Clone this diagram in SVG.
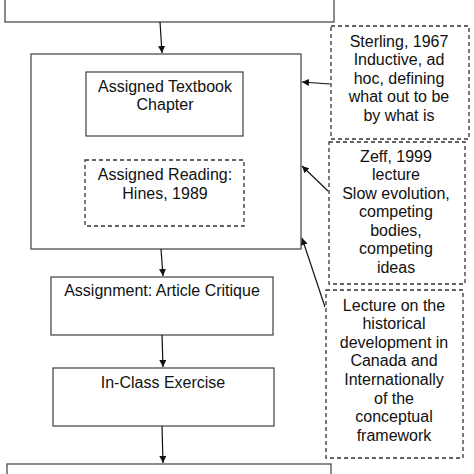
<svg xmlns="http://www.w3.org/2000/svg" width="474" height="474" viewBox="0 0 474 474">
<defs>
<marker id="ah" viewBox="0 0 10 10" refX="10" refY="5" markerWidth="7" markerHeight="7" markerUnits="userSpaceOnUse" orient="auto">
<path d="M0,0 L10,5 L0,10 z" fill="#111"/>
</marker>
<style>
.box{fill:#fff;stroke:#4d4d4d;stroke-width:1.3}
.dash{fill:#fff;stroke:#333;stroke-width:1.3;stroke-dasharray:4 3}
.t{font-family:"Liberation Sans",Arial,sans-serif;font-size:16px;fill:#111;text-anchor:middle}
.c{stroke:#111;stroke-width:1.2;fill:none;marker-end:url(#ah)}
</style>
</defs>
<rect width="474" height="474" fill="#fff"/>
<g id="top-box"><rect class="box" x="5" y="-10" width="329" height="32"/></g>
<g id="container"><rect class="box" x="31" y="54" width="270" height="195"/></g>
<g id="textbook"><rect class="box" x="86" y="72" width="157" height="64"/>
<text class="t" x="165" y="92">Assigned Textbook</text><text class="t" x="165" y="110">Chapter</text></g>
<g id="reading"><rect class="dash" x="85" y="160" width="159" height="66"/>
<text class="t" x="165" y="180">Assigned Reading:</text><text class="t" x="165" y="199">Hines, 1989</text></g>
<g id="sterling"><rect class="dash" x="331" y="26" width="138" height="113"/>
<text class="t" x="399" y="47">Sterling, 1967</text><text class="t" x="399" y="65">Inductive, ad</text><text class="t" x="399" y="84">hoc, defining</text><text class="t" x="399" y="102">what out to be</text><text class="t" x="399" y="121">by what is</text></g>
<g id="zeff"><rect class="dash" x="329" y="142" width="136" height="142"/>
<text class="t" x="396" y="162">Zeff, 1999</text><text class="t" x="396" y="180">lecture</text><text class="t" x="396" y="199">Slow evolution,</text><text class="t" x="396" y="217">competing</text><text class="t" x="396" y="236">bodies,</text><text class="t" x="396" y="254">competing</text><text class="t" x="396" y="273">ideas</text></g>
<g id="lecture"><rect class="dash" x="326" y="290" width="137" height="168"/>
<text class="t" x="394" y="311">Lecture on the</text><text class="t" x="394" y="329">historical</text><text class="t" x="394" y="348">development in</text><text class="t" x="394" y="366">Canada and</text><text class="t" x="394" y="385">Internationally</text><text class="t" x="394" y="404">of the</text><text class="t" x="394" y="422">conceptual</text><text class="t" x="394" y="441">framework</text></g>
<g id="assignment"><rect class="box" x="51" y="277" width="222" height="58"/>
<text class="t" x="162" y="296">Assignment: Article Critique</text></g>
<g id="inclass"><rect class="box" x="53" y="368" width="221" height="58"/>
<text class="t" x="163" y="388">In-Class Exercise</text></g>
<g id="bottom-box"><rect class="box" x="7" y="464" width="324" height="20"/></g>
<g id="connectors">
<line class="c" x1="160" y1="22" x2="162" y2="53"/>
<line class="c" x1="330" y1="84" x2="302" y2="82"/>
<line class="c" x1="328" y1="191" x2="302" y2="166"/>
<line class="c" x1="325" y1="307" x2="302" y2="238"/>
<line class="c" x1="161" y1="249" x2="163" y2="276"/>
<line class="c" x1="162" y1="335" x2="163" y2="367"/>
<line class="c" x1="162" y1="426" x2="163" y2="463"/>
</g>
</svg>
